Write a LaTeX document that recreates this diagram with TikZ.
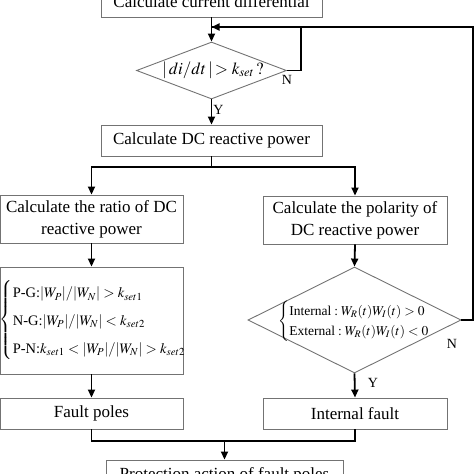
\documentclass[tikz,border=0pt]{standalone}
\usepackage{amsmath}
\usepackage{mathptmx}
\usepackage{fontspec}
\setmainfont{Liberation Serif}
\usetikzlibrary{shapes.geometric,arrows.meta}
\begin{document}
\begin{tikzpicture}[x=1pt,y=-1pt,
  box/.style={draw=black!55,line width=0.9pt,rectangle,inner sep=0pt,align=center,
    font=\fontsize{17}{22}\selectfont},
  dia/.style={draw=black!55,line width=0.9pt,diamond,inner sep=0pt},
  conn/.style={line width=1.8pt,black},
  arr/.style={conn,-{Triangle[length=8pt,width=7pt]}},
  lab/.style={font=\fontsize{14}{14}\selectfont,inner sep=0pt}]
\useasboundingbox (0,0) rectangle (474,474);
% boxes
\node[box,minimum width=221pt,minimum height=31pt] (b1) at (211.5,1.5) {Calculate current differential};
\node[dia,minimum width=150pt,minimum height=57pt] (d1) at (211.5,70.5) {};
\node[font=\fontsize{17}{17}\selectfont,inner sep=0pt] (d1t) at (213,70) {$|\,di/dt\,|\!>k_{set}\,?$};
\node[box,minimum width=221pt,minimum height=31pt] (b2) at (211.5,140.5) {Calculate DC reactive power};
\node[box,minimum width=183pt,minimum height=48pt] (bl) at (91.5,219) {Calculate the ratio of DC\\reactive power};
\node[box,minimum width=184pt,minimum height=48pt] (br) at (355,220) {Calculate the polarity of\\DC reactive power};
\node[box,minimum width=183pt,minimum height=107pt] (bl2) at (91.5,320.5) {};
\node[inner sep=0pt,font=\fontsize{14.5}{14.5}\selectfont] (bl2t) at (93,320) {$\renewcommand{\arraystretch}{1.9}\left\{\begin{array}{@{}l@{}}
 \text{P-G:}|W_P|/|W_N|>k_{set1}\\
 \text{N-G:}|W_P|/|W_N|<k_{set2}\\
 \text{P-N:}k_{set1}<|W_P|/|W_N|>k_{set2}
 \end{array}\right.$};
\node[dia,minimum width=213pt,minimum height=106pt] (d2) at (354.5,320) {};
\node[inner sep=0pt,font=\fontsize{13.5}{13.5}\selectfont] (d2t) at (354,321.5) {$\renewcommand{\arraystretch}{1.5}\left\{\begin{array}{@{}l@{}}
 \text{Internal}:W_R(t)W_I(t)>0\\
 \text{External}:W_R(t)W_I(t)<0
 \end{array}\right.$};
\node[box,minimum width=183pt,minimum height=31pt] (fp) at (91.5,413.5) {Fault poles};
\node[box,minimum width=184pt,minimum height=31pt] (inf) at (355,413.5) {Internal fault};
\node[box,minimum width=237pt,minimum height=31pt] (last) at (224.5,475.5) {Protection action of fault poles};
% coordinates
\coordinate (loopin) at (211.5,27);
\coordinate (splitA) at (211.5,167);
\coordinate (joinA) at (224.5,441);
% connectors
\draw[arr] (b1.south) -- (d1.north);
\draw[arr] (d1.south) -- (b2.north);
\draw[conn] (b2.south) -- (splitA);
\draw[arr] (splitA) -| (bl.north);
\draw[arr] (splitA) -| (br.north);
\draw[arr] (bl.south) -- (bl2.north);
\draw[arr] (bl2.south) -- (fp.north);
\draw[arr] (br.south) -- (d2.north);
\draw[arr] (d2.south) -- (inf.north);
\draw[conn] (fp.south) |- (joinA) -| (inf.south);
\draw[arr] (joinA) -- (last.north);
\draw[conn] (d1.east) -- ++(14,0) |- (loopin);
\draw[arr] (d2.east) -- (473,320) |- (loopin);
% labels
\node[lab] (n1) at (287,80) {N};
\node[lab] (y1) at (218.5,110) {Y};
\node[lab] (n2) at (452,344) {N};
\node[lab] (y2) at (373,383) {Y};
\end{tikzpicture}
\end{document}
